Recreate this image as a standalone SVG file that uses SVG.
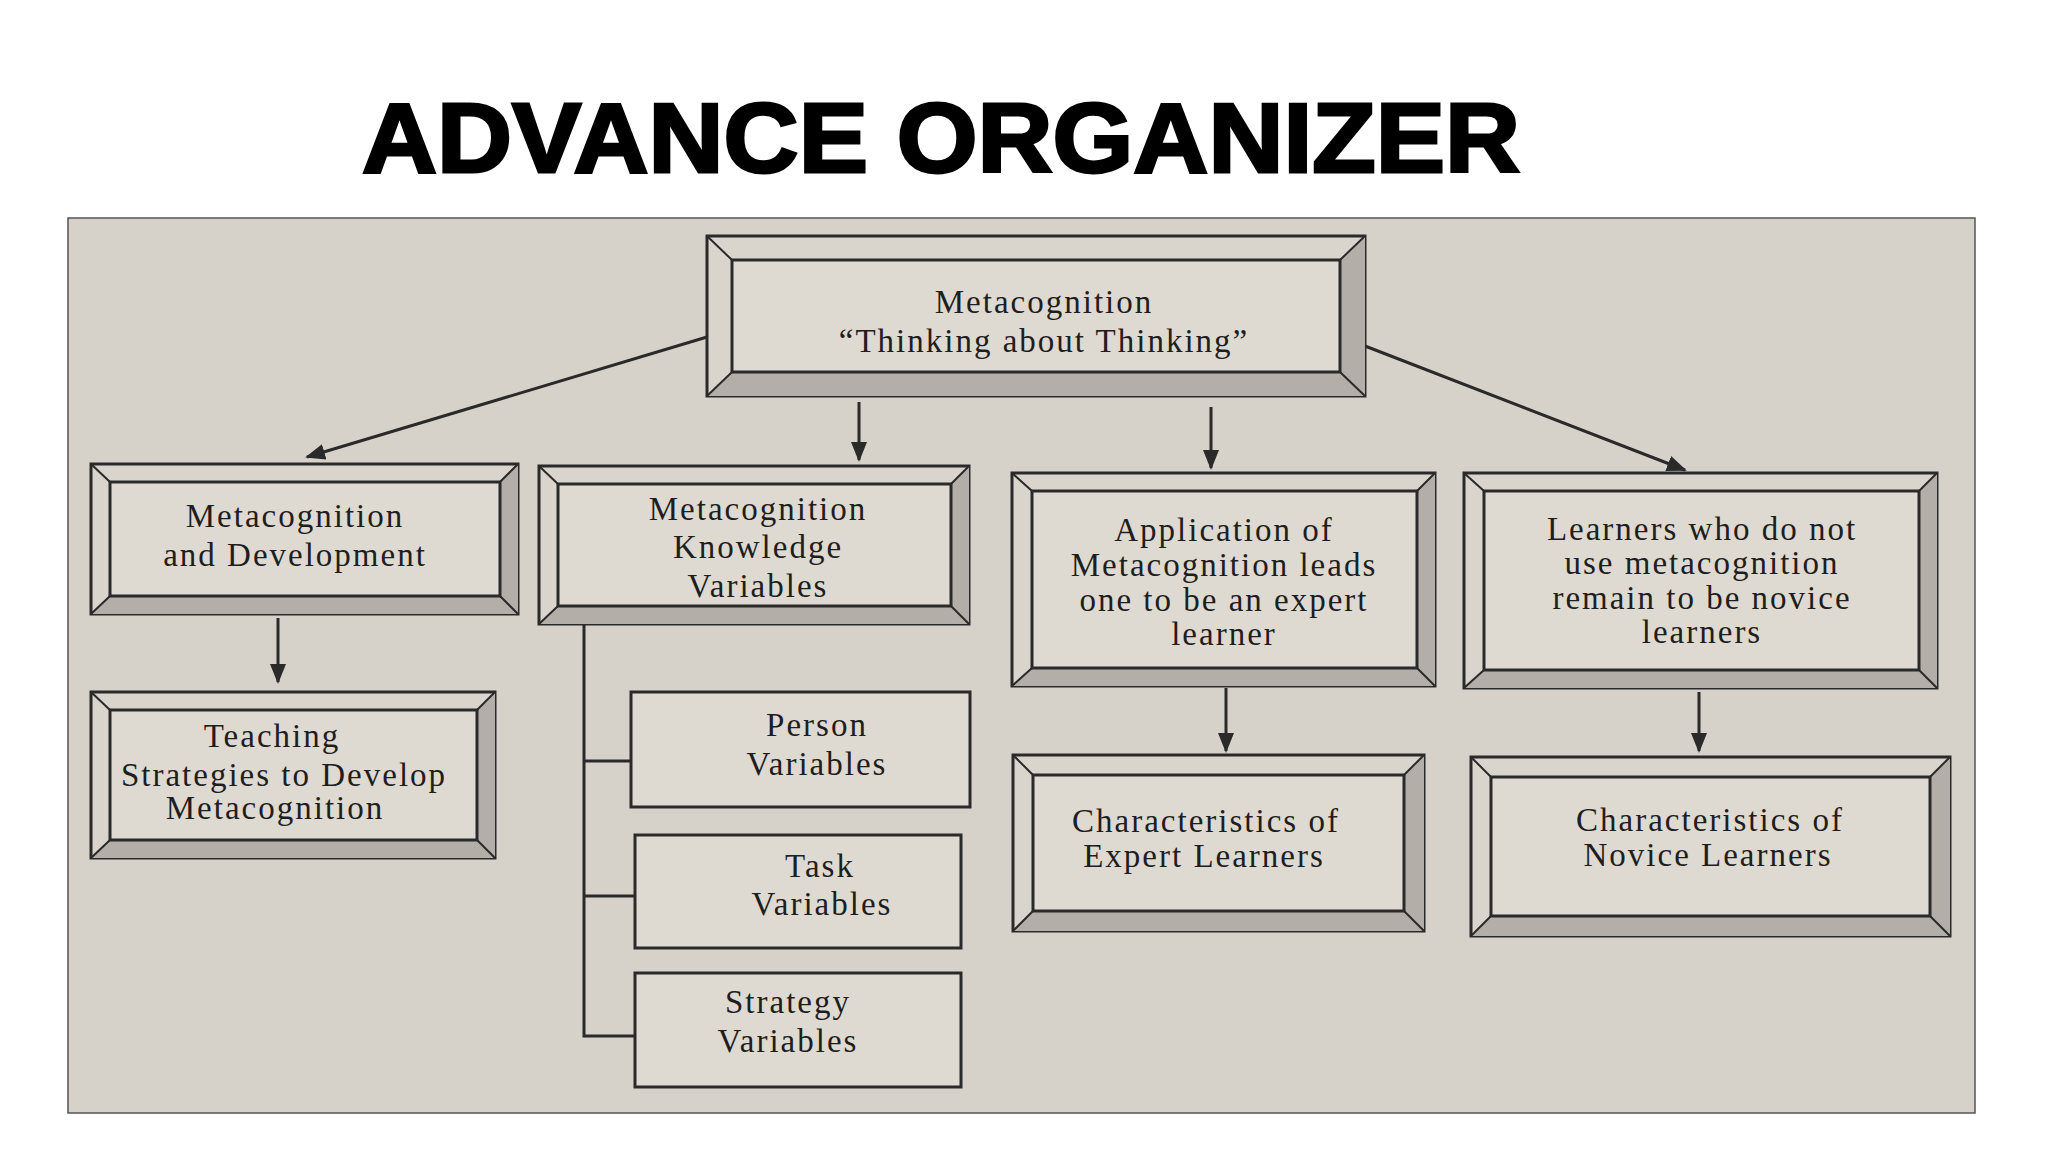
<svg xmlns="http://www.w3.org/2000/svg" width="2048" height="1152" viewBox="0 0 2048 1152">
<style>
.o{fill:#d9d5cd;stroke:#2a2a2a;stroke-width:3}
.i{fill:#dedad2;stroke:#2a2a2a;stroke-width:3}
.b{fill:#b3afa8}
.l{stroke:#2a2a2a;stroke-width:2}
.t{font-family:"Liberation Serif",serif;font-size:33px;fill:#1e1e1e;text-anchor:middle;letter-spacing:2px}
.c{stroke:#2a2a2a;stroke-width:3;fill:none}
</style>
<defs>
<marker id="a2" markerWidth="20" markerHeight="16" refX="18" refY="8" orient="auto" markerUnits="userSpaceOnUse" viewBox="0 0 20 16"><path d="M0,0L20,8L0,16z" fill="#2a2a2a"/></marker></defs>
<rect width="2048" height="1152" fill="#fff"/>
<text x="362" y="172" textLength="1158" lengthAdjust="spacingAndGlyphs" font-family="Liberation Sans,Arial,sans-serif" font-weight="bold" font-size="98" fill="#000" stroke="#000" stroke-width="3">ADVANCE ORGANIZER</text>
<rect x="68" y="218" width="1907" height="895" fill="#d6d2ca" stroke="#555" stroke-width="1.5"/>
<g id="connectors">
<path class="c" d="M707,337L307,457" marker-end="url(#a2)"/>
<path class="c" d="M859,402V460" marker-end="url(#a2)"/>
<path class="c" d="M1211,407V468" marker-end="url(#a2)"/>
<path class="c" d="M1365,346L1685,470" marker-end="url(#a2)"/>
<path class="c" d="M278,618V682" marker-end="url(#a2)"/>
<path class="c" d="M1226,688V751" marker-end="url(#a2)"/>
<path class="c" d="M1699,692V751" marker-end="url(#a2)"/>
<path class="c" d="M584,624V1036H635M584,761H631M584,896H635"/>
</g>
<g id="top">
<rect class="o" x="707" y="236" width="658" height="160"/><path class="b" d="M1365,236V396H707L732,372H1340V260z"/>
<rect class="i" x="732" y="260" width="608" height="112"/><path class="l" d="M707,236L732,260M1365,236L1340,260M707,396L732,372M1365,396L1340,372"/>
<text class="t" x="1044" y="313">Metacognition</text><text class="t" x="1044" y="352">“Thinking about Thinking”</text></g>
<g id="n1">
<rect class="o" x="91" y="464" width="427" height="150"/><path class="b" d="M518,464V614H91L110,596H500V482z"/>
<rect class="i" x="110" y="482" width="390" height="114"/><path class="l" d="M91,464L110,482M518,464L500,482M91,614L110,596M518,614L500,596"/>
<text class="t" x="295" y="527">Metacognition</text><text class="t" x="295" y="566">and Development</text></g>
<g id="n2">
<rect class="o" x="539" y="466" width="430" height="158"/><path class="b" d="M969,466V624H539L558,606H951V484z"/>
<rect class="i" x="558" y="484" width="393" height="122"/><path class="l" d="M539,466L558,484M969,466L951,484M539,624L558,606M969,624L951,606"/>
<text class="t" x="758" y="520">Metacognition</text><text class="t" x="758" y="558">Knowledge</text><text class="t" x="758" y="597">Variables</text></g>
<g id="n3">
<rect class="o" x="1012" y="473" width="423" height="213"/><path class="b" d="M1435,473V686H1012L1032,668H1417V491z"/>
<rect class="i" x="1032" y="491" width="385" height="177"/><path class="l" d="M1012,473L1032,491M1435,473L1417,491M1012,686L1032,668M1435,686L1417,668"/>
<text class="t" x="1224" y="541">Application of</text><text class="t" x="1224" y="576">Metacognition leads</text><text class="t" x="1224" y="611">one to be an expert</text><text class="t" x="1224" y="645">learner</text></g>
<g id="n4">
<rect class="o" x="1464" y="473" width="473" height="215"/><path class="b" d="M1937,473V688H1464L1484,670H1919V491z"/>
<rect class="i" x="1484" y="491" width="435" height="179"/><path class="l" d="M1464,473L1484,491M1937,473L1919,491M1464,688L1484,670M1937,688L1919,670"/>
<text class="t" x="1702" y="540">Learners who do not</text><text class="t" x="1702" y="574">use metacognition</text><text class="t" x="1702" y="609">remain to be novice</text><text class="t" x="1702" y="643">learners</text></g>
<g id="n5">
<rect class="o" x="91" y="692" width="404" height="166"/><path class="b" d="M495,692V858H91L110,840H477V710z"/>
<rect class="i" x="110" y="710" width="367" height="130"/><path class="l" d="M91,692L110,710M495,692L477,710M91,858L110,840M495,858L477,840"/>
<text class="t" x="272" y="747" font-size="29">Teaching</text><text class="t" x="284" y="786" font-size="27">Strategies to Develop</text><text class="t" x="275" y="819" font-size="29">Metacognition</text></g>
<g id="n6"><rect class="i" x="631" y="692" width="339" height="115"/><text class="t" x="817" y="736">Person</text><text class="t" x="817" y="775">Variables</text></g>
<g id="n7"><rect class="i" x="635" y="835" width="326" height="113"/><text class="t" x="820" y="877">Task</text><text class="t" x="822" y="915">Variables</text></g>
<g id="n8"><rect class="i" x="635" y="973" width="326" height="114"/><text class="t" x="788" y="1013">Strategy</text><text class="t" x="788" y="1052">Variables</text></g>
<g id="n9">
<rect class="o" x="1013" y="755" width="411" height="176"/><path class="b" d="M1424,755V931H1013L1033,911H1404V775z"/>
<rect class="i" x="1033" y="775" width="371" height="136"/><path class="l" d="M1013,755L1033,775M1424,755L1404,775M1013,931L1033,911M1424,931L1404,911"/>
<text class="t" x="1206" y="832">Characteristics of</text><text class="t" x="1204" y="867">Expert Learners</text></g>
<g id="n10">
<rect class="o" x="1471" y="757" width="479" height="179"/><path class="b" d="M1950,757V936H1471L1491,916H1930V777z"/>
<rect class="i" x="1491" y="777" width="439" height="139"/><path class="l" d="M1471,757L1491,777M1950,757L1930,777M1471,936L1491,916M1950,936L1930,916"/>
<text class="t" x="1710" y="831">Characteristics of</text><text class="t" x="1708" y="866">Novice Learners</text></g>
</svg>
